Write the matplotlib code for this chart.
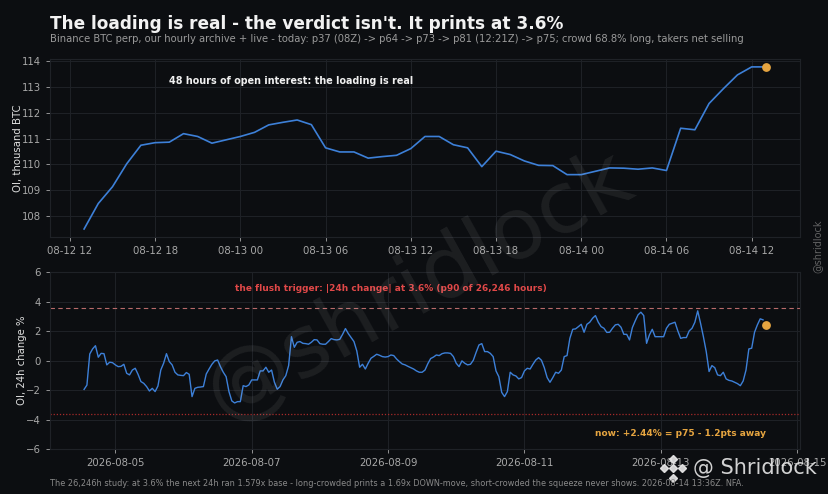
import numpy as np
import pandas as pd
import matplotlib
matplotlib.use("Agg")
import matplotlib.pyplot as plt
import matplotlib.dates as mdates

# hourly open interest, thousand BTC, 2026-08-12 13:00 -> 2026-08-14 13:00
oi_start = "2026-08-12 13:00"
oi_values = [
	107.49, 108.48, 109.13, 110.02, 110.74, 110.84, 110.86, 111.19, 111.08, 110.82, 110.95,
	111.08, 111.24, 111.53, 111.63, 111.72, 111.54, 110.64, 110.48, 110.48, 110.24, 110.30, 110.35,
	110.61, 111.08, 111.08, 110.76, 110.64, 109.91, 110.51, 110.38, 110.13, 109.96, 109.95, 109.60,
	109.60, 109.73, 109.86, 109.85, 109.81, 109.86, 109.76, 111.40, 111.34, 112.36, 112.93, 113.47,
	113.78, 113.78,
]

# OI 24h change %, hourly from 2026-08-04 13:00
chg_start = "2026-08-04 13:00"
chg_values = [
	-1.94, -1.65, 0.46, 0.80, 1.02, 0.24, 0.50, 0.48, -0.28, -0.10, -0.13, -0.28,
	-0.40, -0.38, -0.24, -0.85, -0.96, -0.63, -0.51, -0.92, -1.41, -1.53, -1.75, -2.05,
	-1.87, -2.09, -1.71, -0.63, -0.17, 0.48, -0.06, -0.28, -0.78, -0.96, -0.99, -1.01,
	-0.80, -0.92, -2.43, -1.87, -1.80, -1.78, -1.75, -0.90, -0.56, -0.24, -0.01, 0.05,
	-0.40, -0.78, -1.08, -2.09, -2.72, -2.86, -2.77, -2.77, -1.69, -1.75, -1.64, -1.30,
	-1.30, -1.30, -0.69, -0.69, -0.44, -0.78, -0.63, -1.46, -1.93, -1.75, -1.30, -1.01,
	-0.33, 1.63, 0.91, 1.25, 1.30, 1.18, 1.16, 1.12, 1.25, 1.43, 1.41, 1.16,
	1.12, 1.12, 1.30, 1.50, 1.43, 1.41, 1.45, 1.79, 2.18, 1.84, 1.57, 1.30,
	0.66, -0.44, -0.24, -0.56, -0.17, 0.17, 0.30, 0.44, 0.37, 0.28, 0.25, 0.28,
	0.39, 0.35, 0.12, -0.06, -0.22, -0.28, -0.38, -0.47, -0.56, -0.69, -0.78, -0.78,
	-0.63, -0.20, 0.15, 0.25, 0.39, 0.35, 0.48, 0.53, 0.53, 0.50, 0.28, -0.17,
	-0.40, -0.01, -0.17, -0.28, -0.24, 0.03, 0.57, 1.07, 1.16, 0.62, 0.62, 0.50,
	0.28, -0.69, -1.08, -2.14, -2.43, -2.09, -0.78, -0.96, -1.03, -1.23, -1.14, -0.69,
	-0.51, -0.56, -0.24, 0.05, 0.21, 0.03, -0.47, -1.14, -1.46, -1.14, -0.78, -0.85,
	-0.63, 0.28, 0.35, 1.52, 2.13, 2.16, 2.31, 2.47, 1.93, 2.47, 2.61, 2.88,
	3.06, 2.61, 2.31, 2.20, 1.92, 1.93, 2.20, 2.43, 2.47, 2.27, 1.79, 1.79,
	1.41, 2.25, 2.70, 3.11, 3.29, 3.06, 1.18, 1.75, 2.13, 1.63, 1.63, 1.63,
	1.63, 2.20, 2.47, 2.54, 2.61, 2.02, 1.52, 1.57, 1.57, 2.02, 2.20, 2.61,
	3.38, 2.54, 1.63, 0.62, -0.73, -0.33, -0.47, -0.96, -1.01, -0.78, -1.23, -1.33,
	-1.37, -1.46, -1.55, -1.69, -1.37, -0.63, 0.80, 0.85, 1.93, 2.43, 2.84, 2.77,
]
now_time = "2026-08-14 13:00"
now_value = 2.44
trigger = 3.6

BG = "#0c0e11"
GRID = "#1f2227"
BLUE = "#3d80d8"
ORANGE = "#e6a540"
TICK = "#a8a8a8"

oi_t = pd.date_range(oi_start, periods=len(oi_values), freq="h")
chg_t = pd.date_range(chg_start, periods=len(chg_values), freq="h")

fig = plt.figure(figsize=(8.29, 4.94), dpi=100, facecolor=BG)
ax1 = fig.add_axes([0.0603, 0.520, 0.9047, 0.361])
ax2 = fig.add_axes([0.0603, 0.0905, 0.9047, 0.3585])

for ax in (ax1, ax2):
	ax.set_facecolor(BG)
	ax.grid(True, color=GRID, lw=0.7)
	ax.set_axisbelow(True)
	for s in ax.spines.values():
		s.set_color(GRID)
	ax.tick_params(colors=TICK, labelsize=7.3, length=3, width=0.6)

# top panel
ax1.plot(oi_t, oi_values, color=BLUE, lw=1.2)
ax1.scatter([oi_t[-1]], [oi_values[-1]], s=28, color=ORANGE, zorder=5)
ax1.set_yticks(range(108, 115))
ax1.xaxis.set_major_locator(mdates.HourLocator(byhour=[0, 6, 12, 18]))
ax1.xaxis.set_major_formatter(mdates.DateFormatter("%m-%d %H"))
ax1.set_ylabel("OI, thousand BTC", color="#e0e0e0", fontsize=7.3, labelpad=-1)
ax1.text(0.159, 0.876, "48 hours of open interest: the loading is real", transform=ax1.transAxes,
	color="#f0f0f0", fontsize=6.9, fontweight="bold", va="center", ha="left")

# bottom panel
ax2.plot(chg_t, chg_values, color=BLUE, lw=1.0)
ax2.scatter([pd.Timestamp(now_time)], [now_value], s=28, color=ORANGE, zorder=5)
ax2.axhline(trigger, color="#b86a6a", lw=0.8, ls=(0, (4, 3)))
ax2.axhline(-trigger, color="#a82a2a", lw=0.9, ls=(0, (1, 1.5)))
ax2.set_ylim(-6, 6)
ax2.set_yticks(range(-6, 7, 2))
ax2.xaxis.set_major_locator(mdates.DayLocator(bymonthday=[1, 3, 5, 7, 9, 11, 13, 15, 17]))
ax2.xaxis.set_major_formatter(mdates.DateFormatter("%Y-%m-%d"))
ax2.set_xlim(pd.Timestamp(chg_start) - pd.Timedelta(hours=12), pd.Timestamp(now_time) + pd.Timedelta(hours=12))
ax2.set_ylabel("OI, 24h change %", color="#e0e0e0", fontsize=7.3, labelpad=-1)
ax2.text(0.454, 0.906, "the flush trigger: |24h change| at 3.6% (p90 of 26,246 hours)", transform=ax2.transAxes,
	color="#e04848", fontsize=6.5, fontweight="bold", ha="center", va="center")
ax2.text(pd.Timestamp(now_time), -4.9, "now: +2.44% = p75 - 1.2pts away", color=ORANGE,
	fontsize=6.5, fontweight="bold", ha="right", va="center")

# titles and footer
fig.text(0.0603, 0.951, "The loading is real - the verdict isn't. It prints at 3.6%", color="#f2f2f2",
	fontsize=12.2, fontweight="bold", va="center", ha="left")
fig.text(0.0603, 0.922, "Binance BTC perp, our hourly archive + live - today: p37 (08Z) -> p64 -> p73 -> p81 (12:21Z) -> p75; crowd 68.8% long, takers net selling",
	color="#9a9a9a", fontsize=7.2, va="center", ha="left")
fig.text(0.0603, 0.022, "The 26,246h study: at 3.6% the next 24h ran 1.579x base - long-crowded prints a 1.69x DOWN-move, short-crowded the squeeze never shows. 2026-08-14 13:36Z. NFA.",
	color="#8a8a8a", fontsize=5.85, va="center", ha="left")

# watermarks
fig.text(0.505, 0.42, "@shridlock", color="white", alpha=0.07, fontsize=62, rotation=29,
	ha="center", va="center")
fig.text(0.986, 0.502, "@shridlock", color="#777777", alpha=0.8, fontsize=7, rotation=90,
	ha="center", va="center")
fig.text(0.836, 0.052, "@ Shridlock", color="#e8e8e8", alpha=0.9, fontsize=15, ha="left", va="center")
for dx, dy in [(0, 0), (-0.011, 0), (0.011, 0), (0, 0.019), (0, -0.019)]:
	fig.lines.append(plt.Line2D([0.812 + dx], [0.052 + dy], marker="D", ms=4.5, color="#e8e8e8",
		alpha=0.9, transform=fig.transFigure))

fig.savefig("out.png", dpi=100, facecolor=BG)
